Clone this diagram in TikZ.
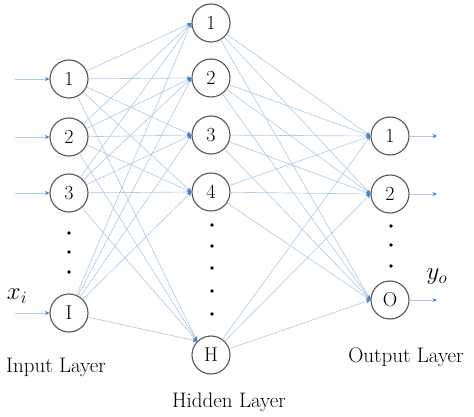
\documentclass[tikz,border=0pt]{standalone}
\usetikzlibrary{arrows.meta}
\definecolor{edgec}{RGB}{178,203,232}
\definecolor{tipc}{RGB}{70,128,198}
\definecolor{ringc}{RGB}{85,85,85}
\begin{document}
\begin{tikzpicture}[x=1pt,y=-1pt,
 neuron/.style={circle,draw=ringc,line width=1.1pt,minimum size=38pt,inner sep=0pt,font=\fontsize{20}{24}\selectfont},
 conn/.style={draw=edgec,line width=0.65pt,-{Stealth[length=4.5pt,width=4pt,color=tipc]}},
 dotmark/.style={circle,fill=black,inner sep=0pt,minimum size=3.6pt},
 lbl/.style={font=\fontsize{21}{25}\selectfont,inner sep=0pt},
 mlbl/.style={font=\fontsize{25}{30}\selectfont,inner sep=0pt}]
\useasboundingbox (0,0) rectangle (474,417);
% input layer
\node[neuron] (i1) at (69,79) {1};
\node[neuron] (i2) at (69,137) {2};
\node[neuron] (i3) at (69,193) {3};
\node[neuron] (iI) at (69,313) {I};
% hidden layer
\node[neuron] (h1) at (211,23) {1};
\node[neuron] (h2) at (211,78) {2};
\node[neuron] (h3) at (211,135) {3};
\node[neuron] (h4) at (211,192) {4};
\node[neuron] (hH) at (211,355) {H};
% output layer
\node[neuron] (o1) at (390,136) {1};
\node[neuron] (o2) at (390,194) {2};
\node[neuron] (oO) at (390,300) {O};
% dots
\foreach \y [count=\k] in {233,252,272} \node[dotmark] (di\k) at (69,\y) {};
\foreach \y [count=\k] in {225,246,268,291,314} \node[dotmark] (dh\k) at (212,\y) {};
\foreach \y [count=\k] in {226,245,266} \node[dotmark] (do\k) at (391,\y) {};
% connections
\foreach \a in {i1,i2,i3,iI}{
  \foreach \b in {h1,h2,h3,h4}
    \draw[conn] (\a) -- (\b.west);
  \draw[conn] (\a) -- (hH.north west);
}
\foreach \a in {h1,h2,h3,h4,hH}
  \foreach \b in {o1,o2,oO}
    \draw[conn] (\a) -- (\b.west);
% input arrows
\coordinate (s1) at (15,79);
\coordinate (s2) at (15,137);
\coordinate (s3) at (15,193);
\coordinate (sI) at (15,313);
\draw[conn] (s1) -- (i1);
\draw[conn] (s2) -- (i2);
\draw[conn] (s3) -- (i3);
\draw[conn] (sI) -- (iI);
% output arrows
\coordinate (e1) at (437,136);
\coordinate (e2) at (437,194);
\coordinate (eO) at (437,300);
\draw[conn] (o1) -- (e1);
\draw[conn] (o2) -- (e2);
\draw[conn] (oO) -- (eO);
% labels
\node[mlbl] (xi) at (17,296) {$x_i$};
\node[mlbl] (yo) at (437,277) {$y_o$};
\node[lbl] (inl) at (56,367) {Input Layer};
\node[lbl] (hil) at (229,402) {Hidden Layer};
\node[lbl] (oul) at (406,357) {Output Layer};
\end{tikzpicture}
\end{document}
